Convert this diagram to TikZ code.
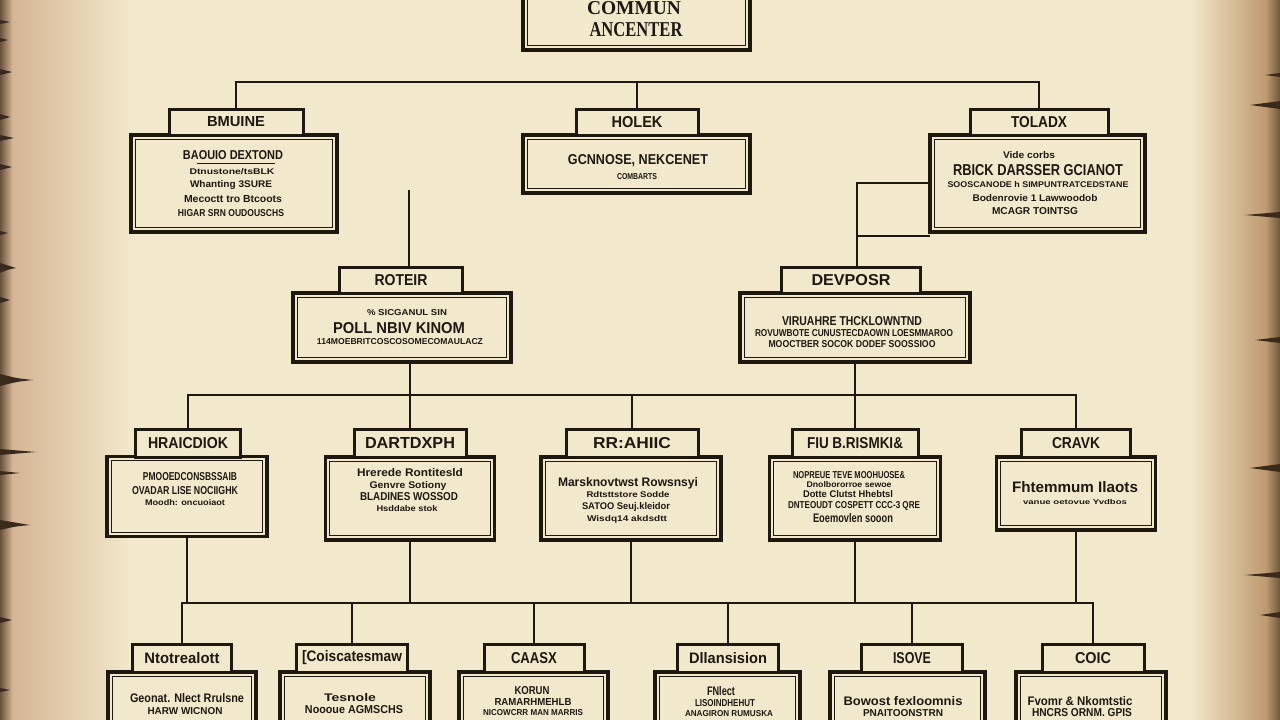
\documentclass[tikz,border=0pt]{standalone}
\usepackage{fontspec}
\usepackage{graphicx}
\setmainfont{Liberation Sans}
\newfontfamily\titlefont{Liberation Serif}
\newcommand\fitt[3]{\resizebox{#1pt}{#2pt}{#3}}
\definecolor{paper}{HTML}{F2E8CB}
\definecolor{ink}{HTML}{1E1811}
\definecolor{edgeL}{HTML}{D2B08E}
\definecolor{edgeR}{HTML}{BE9A70}
\definecolor{spk}{HTML}{3A2A1C}
\newcommand\inframe[1]{\draw[frame] ([shift={(6,6)}]#1.north west) rectangle ([shift={(-6,-6)}]#1.south east);}
\newcommand\tl[6]{\node[txt] (#1) at (#2,#3) {\fitt{#4}{#5}{\bfseries #6}};}
\begin{document}
\begin{tikzpicture}[x=1pt,y=-1pt,
  tabbox/.style={draw=ink,line width=3pt,fill=paper,minimum height=26,inner sep=0pt,text=ink},
  mainbox/.style={draw=ink,line width=3.5pt,fill=paper,inner sep=0pt},
  txt/.style={text=ink,inner sep=0pt},
  conn/.style={draw=ink,line width=2pt},
  frame/.style={draw=ink,line width=1.4pt},
  spike/.style={fill=spk}]
\useasboundingbox (0,0) rectangle (1280,720);
\clip (0,0) rectangle (1280,720);
% background
\fill[paper] (0,0) rectangle (1280,720);
\shade[left color=edgeL, right color=paper] (0,0) rectangle (130,720);
\shade[left color=paper, right color=edgeR] (1190,0) rectangle (1266,720);
\shade[left color=spk!70!edgeL, right color=edgeL] (0,0) rectangle (12,720);
\shade[left color=edgeR, right color=spk!60!edgeR] (1266,0) rectangle (1280,720);
% spikes left
\foreach \yy/\ll/\hh in {22/10/2,40/8/2,72/12/3,117/10/3,138/14/3,167/12/3,233/8/2,268/16/5,300/10/3,380/33/6,452/36/3,473/20/2,525/30/5,620/12/3,690/10/2}{
  \fill[spike] (0,\yy-\hh) .. controls (\ll*0.5,\yy-\hh*0.3) .. (\ll,\yy) .. controls (\ll*0.5,\yy+\hh*0.3) .. (0,\yy+\hh) -- cycle;}
% spikes right
\foreach \yy/\ll/\hh in {75/15/2,105/30/4,215/35/3,340/25/3,468/30/4,575/35/3,615/20/3}{
  \fill[spike] (1280,\yy-\hh) .. controls (1280-\ll*0.5,\yy-\hh*0.3) .. (1280-\ll,\yy) .. controls (1280-\ll*0.5,\yy+\hh*0.3) .. (1280,\yy+\hh) -- cycle;}

% ---------- main boxes ----------
\node[mainbox, minimum width=227, minimum height=80] (top) at (636.5,10) {};
\node[mainbox, minimum width=206, minimum height=97] (m1a) at (234,183.5) {};
\node[mainbox, minimum width=227, minimum height=58] (m1b) at (636.5,164) {};
\node[mainbox, minimum width=215, minimum height=97] (m1c) at (1037.5,183.5) {};
\node[mainbox, minimum width=218, minimum height=69] (m2a) at (402,327.5) {};
\node[mainbox, minimum width=230, minimum height=69] (m2b) at (855,327.5) {};
\node[mainbox, minimum width=160, minimum height=80] (m3a) at (187,496.5) {};
\node[mainbox, minimum width=169, minimum height=83] (m3b) at (410,498.5) {};
\node[mainbox, minimum width=180, minimum height=83] (m3c) at (631,498.5) {};
\node[mainbox, minimum width=171, minimum height=83] (m3d) at (855,498.5) {};
\node[mainbox, minimum width=159, minimum height=73] (m3e) at (1076,493.5) {};
\node[mainbox, minimum width=148, minimum height=60] (m4a) at (182,702) {};
\node[mainbox, minimum width=150, minimum height=60] (m4b) at (355,702) {};
\node[mainbox, minimum width=149, minimum height=60] (m4c) at (533.5,702) {};
\node[mainbox, minimum width=145, minimum height=60] (m4d) at (727.5,702) {};
\node[mainbox, minimum width=155, minimum height=60] (m4e) at (907.5,702) {};
\node[mainbox, minimum width=150, minimum height=60] (m4f) at (1091,702) {};
\foreach \n in {top,m1a,m1b,m1c,m2a,m2b,m3a,m3b,m3c,m3d,m3e,m4a,m4b,m4c,m4d,m4e,m4f}{\inframe{\n}}

% ---------- tabs ----------
\node[tabbox, minimum width=134] (t1a) at (236,122) {\fitt{58}{10}{\bfseries BMUINE}};
\node[tabbox, minimum width=122] (t1b) at (637,122) {\fitt{51}{11}{\bfseries HOLEK}};
\node[tabbox, minimum width=138] (t1c) at (1039,122) {\fitt{56}{11}{\bfseries TOLADX}};
\node[tabbox, minimum width=123] (t2a) at (401,280.5) {\fitt{53}{11}{\bfseries ROTEIR}};
\node[tabbox, minimum width=139] (t2b) at (851,280.5) {\fitt{79}{11}{\bfseries DEVPOSR}};
\node[tabbox, minimum width=105, minimum height=28] (t3a) at (188,443) {\fitt{80}{11}{\bfseries HRAICDIOK}};
\node[tabbox, minimum width=112, minimum height=28] (t3b) at (410,443) {\fitt{90}{11}{\bfseries DARTDXPH}};
\node[tabbox, minimum width=132, minimum height=28] (t3c) at (632,443) {\fitt{78}{11}{\bfseries RR:AHIIC}};
\node[tabbox, minimum width=126, minimum height=28] (t3d) at (855,443) {\fitt{96}{11}{\bfseries FIU B.RISMKI\&}};
\node[tabbox, minimum width=109, minimum height=28] (t3e) at (1076,443) {\fitt{48}{11}{\bfseries CRAVK}};
\node[tabbox, minimum width=99, minimum height=28] (t4a) at (182,658) {\fitt{75}{11}{\bfseries Ntotrealott}};
\node[tabbox, minimum width=111, minimum height=28] (t4b) at (352,658) {\fitt{100}{11}{\bfseries [Coiscatesmaw}};
\node[tabbox, minimum width=100, minimum height=28] (t4c) at (534,658) {\fitt{46}{11}{\bfseries CAASX}};
\node[tabbox, minimum width=101, minimum height=28] (t4d) at (728,658) {\fitt{78}{11}{\bfseries Dllansision}};
\node[tabbox, minimum width=101, minimum height=28] (t4e) at (912,658) {\fitt{38}{11}{\bfseries ISOVE}};
\node[tabbox, minimum width=102, minimum height=28] (t4f) at (1093,658) {\fitt{36}{11}{\bfseries COIC}};

% ---------- connectors ----------
\coordinate (bus1) at (636,82);
\coordinate (f1) at (409,190);
\coordinate (j1) at (857,183);
\coordinate (j2) at (930,236);
\coordinate (bus2) at (636,395);
\coordinate (bus3) at (636,603);
\draw[conn] (t1a.north) |- (bus1) -| (t1c.north);
\draw[conn] (t1b.north |- bus1) -- (t1b.north);
\draw[conn] (f1) -- (f1 |- t2a.north);
\draw[conn] (m1c.west |- j1) -- (j1) -- (j1 |- t2b.north);
\draw[conn] (j1 |- j2) -- (j2);
\draw[conn] (t3a.north) |- (bus2) -| (t3e.north);
\foreach \t in {t3b,t3c,t3d}{\draw[conn] (\t.north |- bus2) -- (\t.north);}
\draw[conn] (t3b.north |- m2a.south) -- (t3b.north |- bus2);
\draw[conn] (t3d.north |- m2b.south) -- (t3d.north |- bus2);
\draw[conn] (t4a.north) |- (bus3) -| (t4f.north);
\foreach \t in {t4b,t4c,t4d,t4e}{\draw[conn] (\t.north |- bus3) -- (\t.north);}
\foreach \m in {m3a,m3b,m3c,m3d,m3e}{\draw[conn] (\m.south) -- (\m.south |- bus3);}

% ---------- texts ----------
\node[txt] (ttl1) at (634,8.5) {\fitt{94}{13}{\titlefont\bfseries COMMUN}};
\node[txt] (ttl2) at (636,29.5) {\fitt{93}{14}{\titlefont\bfseries ANCENTER}};

\tl{a1}{233}{155}{100}{9}{BAOUIO DEXTOND}
\draw[ink, line width=0.9pt] (197,163.5) -- (275,163.5);
\tl{a2}{232}{172}{85}{6}{Dtnustone/tsBLK}
\tl{a3}{231}{185}{82}{7}{Whanting 3SURE}
\tl{a4}{233}{199}{98}{7}{Mecoctt tro Btcoots}
\tl{a5}{231}{213}{106}{7}{HIGAR SRN OUDOUSCHS}

\tl{b1}{638}{161}{140}{10}{GCNNOSE, NEKCENET}
\tl{b2}{637}{177}{40}{6}{COMBARTS}

\tl{c1}{1029}{155}{52}{7}{Vide corbs}
\tl{c2}{1038}{170}{170}{11}{RBICK DARSSER GCIANOT}
\tl{c3}{1038}{185}{181}{6}{SOOSCANODE h SIMPUNTRATCEDSTANE}
\tl{c4}{1035}{198}{125}{7}{Bodenrovie 1 Lawwoodob}
\tl{c5}{1035}{211}{86}{7}{MCAGR TOINTSG}

\tl{d1}{407}{313}{80}{6}{\% SICGANUL SIN}
\tl{d2}{399}{328}{132}{11}{POLL NBIV KINOM}
\tl{d3}{400}{342}{166}{6}{114MOEBRITCOSCOSOMECOMAULACZ}

\tl{e1}{852}{321}{140}{9}{VIRUAHRE THCKLOWNTND}
\tl{e2}{854}{333}{198}{7}{ROVUWBOTE CUNUSTECDAOWN LOESMMAROO}
\tl{e3}{852}{344}{167}{7}{MOOCTBER SOCOK DODEF SOOSSIOO}

\tl{f1}{190}{477}{94}{8}{PMOOEDCONSBSSAIB}
\tl{f2}{185}{491}{106}{8}{OVADAR LISE NOCIIGHK}
\tl{f3}{185}{503}{80}{6}{Moodh: oncuoiaot}

\tl{g1}{410}{473}{106}{8}{Hrerede Rontitesld}
\tl{g2}{408}{486}{77}{7}{Genvre Sotiony}
\tl{g3}{409}{497}{98}{8}{BLADINES WOSSOD}
\tl{g4}{407}{509}{61}{6}{Hsddabe stok}

\tl{h1}{628}{483}{140}{9}{Marsknovtwst Rowsnsyi}
\tl{h2}{628}{495}{83}{6}{Rdtsttstore Sodde}
\tl{h3}{626}{507}{88}{7}{SATOO Seuj.kleidor}
\tl{h4}{627}{519}{80}{6}{Wisdq14 akdsdtt}

\tl{i1}{849}{475}{112}{7}{NOPREUE TEVE MOOHUOSE\&}
\tl{i2}{849}{485}{85}{6}{Dnolbororroe sewoe}
\tl{i3}{848}{494}{90}{7}{Dotte Clutst Hhebtsl}
\tl{i4}{854}{506}{132}{7}{DNTEOUDT COSPETT CCC-3 QRE}
\tl{i5}{853}{518}{80}{9}{Eoemovlen sooon}

\tl{k1}{1075}{487}{126}{11}{Fhtemmum Ilaots}
\tl{k2}{1075}{502}{104}{5}{vanue oetovue Yvdbos}

\tl{l1}{187}{698}{114}{9}{Geonat. Nlect Rrulsne}
\tl{l2}{185}{711}{75}{7}{HARW WICNON}
\tl{n1}{350}{698}{52}{8}{Tesnole}
\tl{n2}{354}{710}{98}{8}{Noooue AGMSCHS}
\tl{o1}{532}{691}{35}{8}{KORUN}
\tl{o2}{533}{702}{77}{7}{RAMARHMEHLB}
\tl{o3}{533}{713}{100}{6}{NICOWCRR MAN MARRIS}
\tl{p1}{721}{691}{28}{9}{FNlect}
\tl{p2}{725}{703}{60}{7}{LISOINDHEHUT}
\tl{p3}{729}{714}{88}{6}{ANAGIRON RUMUSKA}
\tl{q1}{903}{701}{119}{9}{Bowost fexloomnis}
\tl{q2}{903}{713}{80}{7}{PNAITOONSTRN}
\tl{r1}{1080}{701}{105}{9}{Fvomr \& Nkomtstic}
\tl{r2}{1082}{713}{100}{8}{HNCRS ORNM. GPIS}
\end{tikzpicture}
\end{document}
